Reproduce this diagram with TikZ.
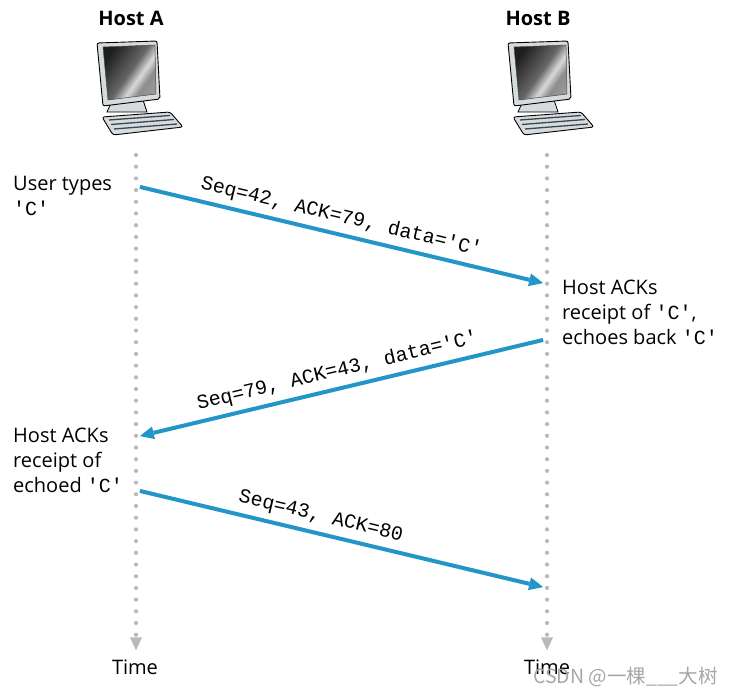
\documentclass[tikz,border=0pt]{standalone}
\usepackage{fontspec}
\setmainfont{Open Sans}
\setmonofont{Liberation Mono}
\newfontfamily\cjkfont{Noto Sans CJK SC}
\usetikzlibrary{arrows.meta}
\definecolor{msgblue}{RGB}{33,150,199}
\definecolor{lifegray}{RGB}{185,185,185}
\definecolor{bezel}{RGB}{214,219,222}
\definecolor{keyline}{RGB}{60,70,78}
\pgfdeclarehorizontalshading{screenshade}{100bp}{color(0bp)=(black!90); color(25bp)=(black!88);
  color(50bp)=(black!60); color(60bp)=(black!15); color(68bp)=(black!45); color(100bp)=(black!30)}

\begin{document}
\begin{tikzpicture}[
            x=1pt, y=-1pt,
            every node/.style={inner sep=0pt, font=\fontsize{20}{25}\selectfont},
            hosttitle/.style={font=\fontsize{20}{25}\selectfont\bfseries},
            note/.style={align=left, anchor=north west},
            lifeline/.style={draw=lifegray, line width=4.2pt, line cap=round, dash pattern=on 0pt off 11.7pt,
              -{Triangle[length=13pt, width=12pt, line width=0pt]}, shorten >=9pt},
            message/.style={draw=msgblue, line width=4pt, -{Triangle[length=14pt, width=13pt, line width=0pt]},
              shorten <=4pt, shorten >=4pt},
            msglabel/.style={sloped, above=6pt, font=\fontsize{20}{25}\selectfont\ttfamily},
            computer/.pic={
              \draw[fill=bezel, line width=0.8pt] (-24,101) -- (7,100) -- (11,112) -- (-29,112) -- cycle;
              \draw[fill=bezel, line width=0.9pt, rounded corners=2pt] (-39,43) -- (21,41) -- (24,99) -- (-33,106) -- cycle;
              \shade[shading=screenshade, shading angle=-35, draw=black!70, line width=0.5pt]
                (-33,47) -- (19,45) -- (20,94) -- (-28,100) -- cycle;
              \draw[fill=bezel, line width=0.9pt, rounded corners=2.5pt] (-34,117) -- (34,112) -- (47,127) -- (-23,135) -- cycle;
              \draw[keyline, line width=1.3pt] (-27,120) -- (34,115.5) (-25,124.5) -- (38,119.5) (-22,129) -- (41,124);
              \coordinate (-base) at (0,155);
            }
            ]
            \pic (hostA) at (136,0) {computer};
            \pic (hostB) at (547,0) {computer};
            \node[hosttitle] (titleA) at (131,18) {Host A};
            \node[hosttitle] (titleB) at (538,18) {Host B};
            \node (timeA) at (135,667) {Time};
            \node (timeB) at (547,667) {Time};
            \draw[lifeline] (hostA-base) -- (hostA-base |- timeA.north);
            \draw[lifeline] (hostB-base) -- (hostB-base |- timeB.north);

            \coordinate (m1A) at (136,186);
            \coordinate (m1B) at (547,284);
            \coordinate (m2B) at (547,339);
            \coordinate (m2A) at (136,437);
            \coordinate (m3A) at (136,490);
            \coordinate (m3B) at (547,588);
            \draw[message] (m1A) -- node[msglabel, pos=0.49] {Seq=42, ACK=79, data='C'} (m1B);
            \draw[message] (m2B) -- node[msglabel] {Seq=79, ACK=43, data='C'} (m2A);
            \draw[message] (m3A) -- node[msglabel, pos=0.44] {Seq=43, ACK=80} (m3B);

            \node[note] (typeA) at (13,176) {User types\\{\ttfamily 'C'}};
            \node[note] (ackB) at (562,280) {Host ACKs\\receipt of {\ttfamily 'C'},\\echoes back {\ttfamily 'C'}};
            \node[note] (ackA) at (13,428) {Host ACKs\\receipt of\\echoed {\ttfamily 'C'}};
            \node[font=\cjkfont\fontsize{19.5}{20}\selectfont, text=black!35, anchor=east] (mark) at (718,677) {CSDN @一棵\_\_\_大树};
            \useasboundingbox (0,0) rectangle (733,695);
\end{tikzpicture}
\end{document}
